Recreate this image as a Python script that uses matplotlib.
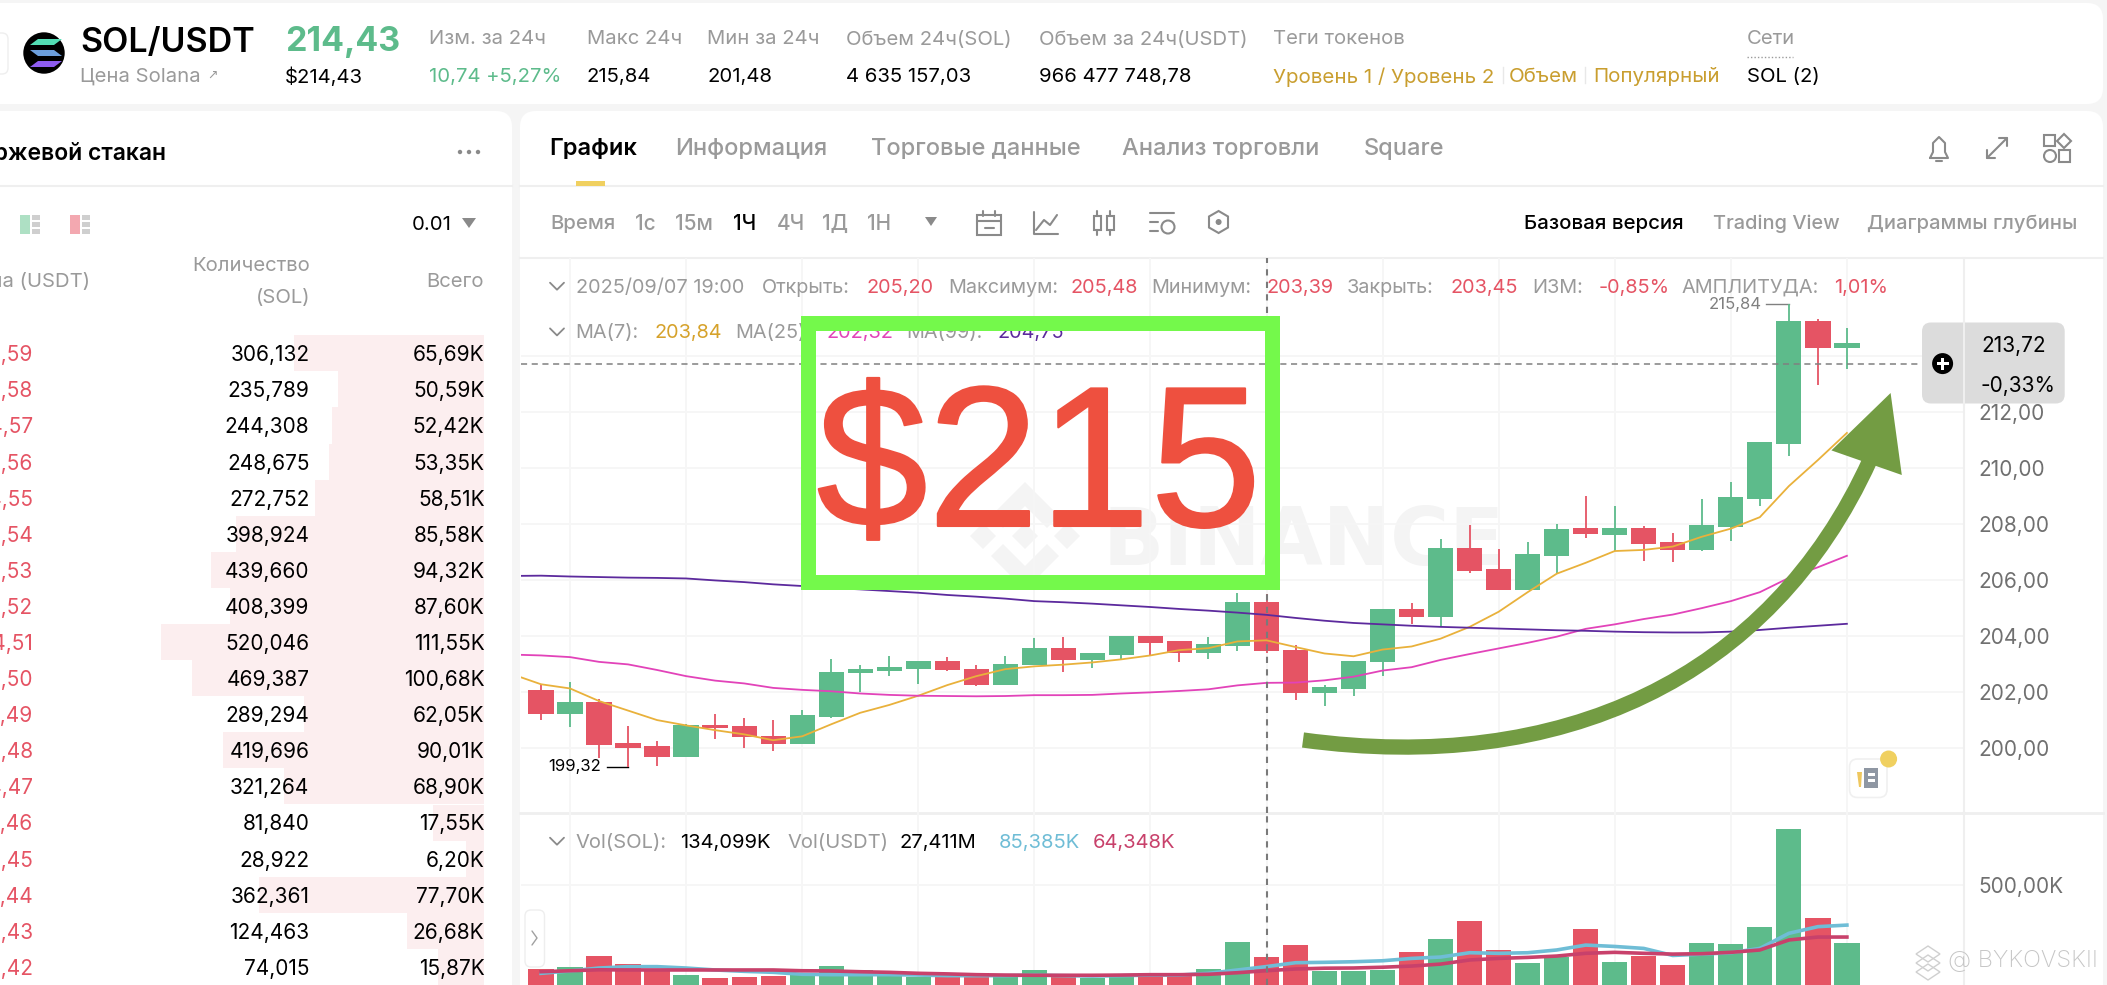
import numpy as np
import matplotlib
matplotlib.use('Agg')
import matplotlib.pyplot as plt
import matplotlib.patheffects as pe
from matplotlib.patches import FancyBboxPatch, Rectangle, Polygon, Circle, PathPatch
from matplotlib.path import Path

plt.rcParams['font.family'] = ['Inter', 'DejaVu Sans']

W, H = 2107, 985

# candles, 1h
opens = [202.07, 201.22, 201.63, 200.17, 200.05, 199.67, 200.82, 200.77, 200.41, 200.13,
         201.10, 202.68, 202.76, 202.82, 203.10, 202.83, 202.23, 202.97, 203.56, 203.14,
         203.33, 203.98, 203.80, 203.39, 203.65, 205.20, 203.48, 201.94, 202.10, 203.05,
         204.95, 204.66, 207.13, 206.38, 205.63, 206.86, 207.86, 207.60, 207.86, 207.35,
         207.05, 207.88, 208.90, 210.85, 215.26, 214.27]
highs = [202.27, 202.35, 201.76, 200.78, 200.26, 200.85, 201.19, 201.06, 200.98, 201.35,
         203.18, 202.95, 203.27, 203.10, 203.24, 202.95, 203.29, 203.93, 203.95, 203.39,
         203.98, 203.98, 203.80, 203.95, 205.54, 205.48, 203.67, 202.24, 203.10, 204.95,
         205.18, 207.45, 207.95, 207.09, 207.37, 207.98, 208.99, 208.64, 207.92, 207.69,
         208.88, 209.49, 210.94, 215.84, 215.31, 215.00]
lows = [200.99, 200.74, 199.62, 199.32, 199.35, 199.67, 200.33, 200.00, 199.90, 200.13,
        201.07, 201.99, 202.56, 202.28, 202.76, 202.21, 202.23, 202.97, 202.72, 202.86,
        203.14, 203.33, 203.07, 203.16, 203.46, 203.39, 201.71, 201.48, 201.86, 202.58,
        204.44, 204.34, 206.26, 205.63, 205.63, 206.22, 207.50, 207.03, 206.68, 206.65,
        207.03, 207.40, 208.65, 210.43, 212.96, 213.53]
closes = [201.22, 201.63, 200.10, 200.00, 199.67, 200.82, 200.69, 200.37, 200.13, 201.16,
          202.72, 202.82, 202.87, 203.10, 202.79, 202.23, 203.01, 203.56, 203.14, 203.39,
          203.98, 203.74, 203.39, 203.70, 205.22, 203.45, 201.95, 202.16, 203.10, 204.95,
          204.66, 207.13, 206.33, 205.63, 206.91, 207.83, 207.63, 207.86, 207.28, 207.05,
          207.95, 208.95, 210.91, 215.26, 214.27, 214.46]

# moving averages, first value is one candle before the visible range
ma7 = [202.63, 202.27, 202.12, 201.67, 201.33, 200.99, 200.80, 200.63, 200.48, 200.27, 200.41,
       200.84, 201.25, 201.53, 201.86, 202.24, 202.56, 202.81, 202.91, 202.97, 203.05,
       203.16, 203.30, 203.49, 203.56, 203.80, 203.84, 203.60, 203.37, 203.27, 203.51,
       203.62, 203.90, 204.32, 204.86, 205.56, 206.22, 206.61, 207.03, 207.07, 207.19,
       207.54, 207.83, 208.24, 209.35, 210.28, 211.25]
ma25 = [203.33, 203.30, 203.24, 203.07, 202.98, 202.78, 202.56, 202.40, 202.30, 202.14, 202.07,
        202.02, 201.94, 201.89, 201.86, 201.85, 201.84, 201.85, 201.88, 201.88, 201.89,
        201.94, 201.98, 202.03, 202.09, 202.23, 202.32, 202.33, 202.41, 202.54, 202.76,
        202.88, 203.14, 203.35, 203.55, 203.75, 203.97, 204.25, 204.41, 204.60, 204.76,
        204.99, 205.24, 205.56, 206.07, 206.45, 206.86]
ma99 = [206.14, 206.15, 206.12, 206.10, 206.08, 206.07, 206.05, 205.98, 205.92, 205.84, 205.78,
        205.71, 205.66, 205.60, 205.54, 205.46, 205.40, 205.33, 205.24, 205.20, 205.15,
        205.09, 205.03, 204.96, 204.90, 204.83, 204.75, 204.64, 204.54, 204.46, 204.41,
        204.36, 204.32, 204.29, 204.26, 204.23, 204.20, 204.18, 204.15, 204.13, 204.12,
        204.12, 204.15, 204.21, 204.29, 204.36, 204.43]
price_ticks = [200, 202, 204, 206, 208, 210, 212, 214]
price_labels = ['200,00', '202,00', '204,00', '206,00', '208,00', '210,00', '212,00', '214,00']
last_price = 213.72

# volume in thousands of SOL
volumes = [71, 83, 139, 97, 71, 42, 27, 31, 37, 51, 88, 68, 51, 31, 34, 51, 31, 69, 34, 29,
           34, 54, 47, 73, 209, 134.1, 197, 64, 64, 66, 161, 226, 316, 170, 105, 136, 275,
           107, 141, 93, 204, 200, 287, 786, 332, 207]
vol_ma5 = [51, 63, 78, 85, 85, 78, 68, 61, 56, 46, 44, 44, 44, 42, 39, 39, 39, 42, 39, 37,
           39, 42, 42, 51, 68, 85.4, 105, 107, 110, 115, 127, 134, 156, 153, 156, 170, 195,
           188, 178, 142, 149, 156, 178, 255, 289, 297]
vol_ma10 = [59, 64, 69, 68, 68, 68, 68, 68, 68, 64, 63, 59, 56, 51, 48, 44, 42, 41, 41, 41,
            42, 44, 44, 46, 54, 64.3, 73, 77, 78, 82, 88, 98, 119, 127, 132, 139, 153,
            158, 153, 149, 151, 158, 170, 221, 236, 236]

# order book
book_prices = ['214,59', '214,58', '214,57', '214,56', '214,55', '214,54', '214,53', '214,52', '214,51',
               '214,50', '214,49', '214,48', '214,47', '214,46', '214,45', '214,44', '214,43', '214,42']
book_qty = [306.132, 235.789, 244.308, 248.675, 272.752, 398.924, 439.660, 408.399, 520.046,
            469.387, 289.294, 419.696, 321.264, 81.840, 28.922, 362.361, 124.463, 74.015]
book_total = ['65,69K', '50,59K', '52,42K', '53,35K', '58,51K', '85,58K', '94,32K', '87,60K', '111,55K',
              '100,68K', '62,05K', '90,01K', '68,90K', '17,55K', '6,20K', '77,70K', '26,68K', '15,87K']

GREEN = '#5DBB8B'
RED = '#E55464'
GREY = '#9A9A9A'
TAG = '#C99E2F'
LINE = '#EFEFEF'
GRID = '#F6F6F6'


def px_axes(x0, y0, x1, y1, z):
    ax = fig.add_axes([x0 / W, 1 - y1 / H, (x1 - x0) / W, (y1 - y0) / H], zorder=z)
    ax.patch.set_alpha(0)
    return ax


def txt(x, y, s, color='black', size=14.6, ha='left', weight='normal', **kw):
    top.text(x, y, s, color=color, fontsize=size, ha=ha, va='center_baseline', fontweight=weight, **kw)


def icon(points, color='#8A8A8A', lw=1.5):
    pts = np.array(points)
    top.plot(pts[:, 0], pts[:, 1], color=color, lw=lw, solid_capstyle='round')


fig = plt.figure(figsize=(W / 100, H / 100), dpi=100, facecolor='#F5F5F5')

# page background and panels
bg = px_axes(0, 0, W, H, 0)
bg.set_xlim(0, W)
bg.set_ylim(H, 0)
bg.axis('off')
for x, y, w, h in [(-30, 3, 2133, 101), (-30, 111, 542, 920), (520, 111, 1583, 920)]:
    bg.add_patch(FancyBboxPatch((x, y), w, h, boxstyle='round,pad=0,rounding_size=16', fc='white', ec='none'))
bg.plot([0, 512], [186, 186], color=LINE, lw=1.5)
bg.plot([520, 2103], [186, 186], color=LINE, lw=1.5)
bg.plot([520, 2103], [258, 258], color=LINE, lw=1.5)
bg.plot([520, 2103], [813, 813], color=LINE, lw=2)

# watermark
wm = '#F4F4F4'
bg.text(1103, 565, 'BINANCE', color=wm, fontsize=58, fontweight='bold', family='DejaVu Sans', va='baseline')
cx, cy = 1025, 536
for dx in (-42, 0, 42):
    bg.add_patch(Polygon([(cx + dx, cy - 13), (cx + dx + 13, cy), (cx + dx, cy + 13), (cx + dx - 13, cy)], fc=wm))
for s in (-1, 1):
    bg.add_patch(Polygon([(cx, cy + s * 54), (cx + 34, cy + s * 20), (cx + 22, cy + s * 8), (cx, cy + s * 30),
                          (cx - 22, cy + s * 8), (cx - 34, cy + s * 20)], fc=wm))

# order book bars
book = px_axes(0, 335.2, 484, 985, 1)
book.set_xlim(779, 0)
book.set_ylim(17.5, -0.5)
book.axis('off')
book.barh(np.arange(18), book_qty, height=1.0, color='#FCEEEF')

# price chart
x0_px, step_px = 541, 29.02
chart_xlim = ((521 - x0_px) / step_px, (1964 - x0_px) / step_px)
idx = np.arange(len(opens))
ax = px_axes(521, 258, 1964, 813, 2)
ax.set_xlim(*chart_xlim)
ax.set_ylim(197.67, 217.5)
for i in idx:
    col = GREEN if closes[i] >= opens[i] else RED
    ax.vlines(i, lows[i], highs[i], color=col, lw=1.3, zorder=3)
    ax.bar(i, max(abs(closes[i] - opens[i]), 0.06), bottom=min(opens[i], closes[i]), width=0.87, color=col, zorder=3)
ma_x = np.arange(-1, 46)
ax.plot(ma_x, ma7, color='#E9B13B', lw=1.3, zorder=4)
ax.plot(ma_x, ma25, color='#E243B9', lw=1.3, zorder=4)
ax.plot(ma_x, ma99, color='#5C2A9D', lw=1.3, zorder=4)
ax.plot([chart_xlim[0], 47.55], [last_price, last_price], color='#808080', lw=1.1, ls=(0, (4, 3)), zorder=5)
ax.axvline(25, color='#7A7A7A', lw=1.5, ls=(0, (3, 3)), zorder=5)
grid_idx = np.arange(1, 46, 4)
ax.set_xticks(grid_idx)
ax.set_yticks(price_ticks)
ax.set_yticklabels(price_labels, color='#707070', fontsize=15)
ax.yaxis.tick_right()
ax.tick_params(length=0, labelbottom=False, pad=10.5)
ax.grid(color=GRID, lw=1.3)
ax.set_axisbelow(True)
for name, sp in ax.spines.items():
    sp.set_visible(name == 'right')
    sp.set_color(LINE)
    sp.set_linewidth(1.5)
ax.annotate('215,84', (43, 215.84), xytext=(-27, 0), textcoords='offset pixels', color='#808080', fontsize=12,
            ha='right', va='center')
ax.plot([42.2, 43], [215.84, 215.84], color='#808080', lw=1)
ax.annotate('199,32', (3, 199.32), xytext=(-27, 0), textcoords='offset pixels', color='black', fontsize=12,
            ha='right', va='center')
ax.plot([2.28, 3], [199.32, 199.32], color='black', lw=1)

# volume
vol = px_axes(521, 813, 1964, 985, 2)
vol.set_xlim(*chart_xlim)
vol.set_ylim(-8.7, 869)
vol_colors = [GREEN if c >= o else RED for o, c in zip(opens, closes)]
vol.bar(idx, np.array(volumes) + 9, bottom=-9, width=0.87, color=vol_colors, zorder=3)
vol.plot(idx, vol_ma5, color='#6FBDD6', lw=2.6, zorder=4)
vol.plot(idx, vol_ma10, color='#C8416B', lw=2.6, zorder=4)
vol.axvline(25, color='#7A7A7A', lw=1.5, ls=(0, (3, 3)), zorder=5)
vol.set_xticks(grid_idx)
vol.set_yticks([500])
vol.set_yticklabels(['500,00K'], color='#707070', fontsize=15)
vol.yaxis.tick_right()
vol.tick_params(length=0, labelbottom=False, pad=10.5)
vol.grid(color=GRID, lw=1.3)
vol.set_axisbelow(True)
for name, sp in vol.spines.items():
    sp.set_visible(name == 'right')
    sp.set_color(LINE)
    sp.set_linewidth(1.5)

# texts, icons and the drawn-on annotations
top = px_axes(0, 0, W, H, 3)
top.set_xlim(0, W)
top.set_ylim(H, 0)
top.axis('off')

# header
top.add_patch(FancyBboxPatch((-12, 33), 20, 41, boxstyle='round,pad=0,rounding_size=6', fc='white', ec='#EEEEEE', lw=1))
top.add_patch(Circle((44, 53), 20.7, fc='black'))
for dy, c, left_in in [(-11, '#52DDB4', True), (0, '#6C9FDC', False), (11, '#8E5CF0', True)]:
    shift = 4 if left_in else -4
    top.add_patch(Polygon([(34 + shift, 53 + dy - 3), (58 + shift, 53 + dy - 3),
                           (58 - shift, 53 + dy + 3), (34 - shift, 53 + dy + 3)], fc=c))
txt(80, 39, 'SOL/USDT', size=24.5, weight='semibold')
txt(80, 75, 'Цена Solana', color=GREY)
txt(207, 74, '↗', color=GREY, size=9, family=['DejaVu Sans'])
txt(284.7, 39, '214,43', color=GREEN, size=24.5, weight='bold')
txt(284.7, 75, '$214,43')
for x, label, value, col in [(428.7, 'Изм. за 24ч', '10,74 +5,27%', GREEN),
                             (586.7, 'Макс 24ч', '215,84', 'black'),
                             (707.3, 'Мин за 24ч', '201,48', 'black'),
                             (846, 'Объем 24ч(SOL)', '4 635 157,03', 'black'),
                             (1039, 'Объем за 24ч(USDT)', '966 477 748,78', 'black')]:
    txt(x, 37.5, label, color=GREY)
    txt(x, 75, value, color=col)
txt(1273, 37.5, 'Теги токенов', color=GREY)
txt(1273, 75, 'Уровень 1 / Уровень 2', color=TAG, size=14.8)
txt(1509, 75, 'Объем', color=TAG, size=14.8)
txt(1593, 75, 'Популярный', color=TAG, size=14.8)
for x in (1502.5, 1585):
    top.plot([x, x], [67, 83], color='#E8E8E8', lw=1)
txt(1746.6, 37.5, 'Сети', color=GREY)
top.plot([1746.6, 1793], [56.7, 56.7], color='#9A9A9A', lw=1, ls=(0, (1, 1.5)))
txt(1746.6, 75, 'SOL (2)')

# order book header and rows
txt(166, 152, 'Биржевой стакан', ha='right', size=16.5, weight='semibold')
for x in (460, 469, 478):
    top.add_patch(Circle((x, 152), 2.2, fc='#8A8A8A'))
for x, c in [(20, '#AEE0C4'), (70, '#F3A8B0')]:
    top.add_patch(Rectangle((x, 215), 10, 19, fc=c))
    for y in (215, 222, 229):
        top.add_patch(Rectangle((x + 12, y), 8, 5, fc='#CFCFCF'))
txt(412, 223, '0.01')
top.add_patch(Polygon([(462, 218), (476, 218), (469, 228)], fc='#8A8A8A'))
txt(89.7, 279.5, 'Цена (USDT)', color=GREY, ha='right')
txt(310, 264, 'Количество', color=GREY, ha='right')
txt(310, 296, '(SOL)', color=GREY, ha='right')
txt(483.3, 280, 'Всего', color=GREY, ha='right')
for i in range(18):
    y = 353.2 + 36.1 * i
    txt(33, y, book_prices[i], color=RED, size=15, ha='right')
    txt(309.5, y, f'{book_qty[i]:.3f}'.replace('.', ','), size=15, ha='right')
    txt(484.5, y, book_total[i], size=15, ha='right')

# tabs
txt(549, 146.7, 'График', size=17, weight='semibold')
for x, s in [(675, 'Информация'), (870.7, 'Торговые данные'), (1122, 'Анализ торговли'), (1363.5, 'Square')]:
    txt(x, 146.7, s, color=GREY, size=17, weight='medium')
top.add_patch(Rectangle((576, 181), 29, 5, fc='#F0D060'))
icon([(1930, 158), (1933, 152), (1933, 143), (1939, 137), (1945, 143), (1945, 152), (1948, 158), (1930, 158)])
icon([(1936, 161), (1942, 161)])
icon([(1987, 158), (2007, 138)])
icon([(1987, 150), (1987, 158), (1995, 158)])
icon([(1999, 138), (2007, 138), (2007, 146)])
top.add_patch(Rectangle((2044, 135), 11, 11, fc='none', ec='#8A8A8A', lw=1.5))
top.add_patch(Polygon([(2064, 134), (2071, 141), (2064, 148), (2057, 141)], fc='none', ec='#8A8A8A', lw=1.5))
top.add_patch(Circle((2050, 156), 6, fc='none', ec='#8A8A8A', lw=1.5))
top.add_patch(Rectangle((2059, 150), 11, 12, fc='none', ec='#8A8A8A', lw=1.5))

# toolbar
txt(550.6, 222, 'Время', color=GREY, size=14.6, weight='medium')
for x, s, c in [(635, '1с', GREY), (675, '15м', GREY), (733.4, '1Ч', 'black'), (777, '4Ч', GREY),
                (822, '1Д', GREY), (867, '1Н', GREY)]:
    txt(x, 222, s, color=c, size=15, weight='medium')
top.add_patch(Polygon([(925, 217), (937, 217), (931, 226)], fc='#8A8A8A'))
top.add_patch(Rectangle((977, 215), 24, 20, fc='none', ec='#8A8A8A', lw=1.5))
icon([(977, 221), (1001, 221)])
icon([(983, 211), (983, 216)])
icon([(995, 211), (995, 216)])
icon([(994, 228), (985, 228)])
icon([(1034, 212), (1034, 234), (1058, 234)])
icon([(1036, 230), (1044, 220), (1050, 225), (1057, 215)])
for x in (1097, 1110):
    top.add_patch(Rectangle((x - 3.5, 216), 7, 14, fc='none', ec='#8A8A8A', lw=1.5))
    icon([(x, 211), (x, 216)])
    icon([(x, 230), (x, 235)])
icon([(1150, 213), (1174, 213)])
icon([(1150, 222), (1158, 222)])
icon([(1150, 231), (1158, 231)])
top.add_patch(Circle((1168, 227), 6.5, fc='none', ec='#8A8A8A', lw=1.5))
top.add_patch(Polygon([(1218.6, 211), (1228, 216.5), (1228, 227.5), (1218.6, 233), (1209, 227.5), (1209, 216.5)],
                      fc='none', ec='#8A8A8A', lw=1.5))
top.add_patch(Circle((1218.6, 222), 3, fc='#8A8A8A'))
txt(1524, 222, 'Базовая версия', size=14.7, weight='medium')
txt(1713, 222, 'Trading View', color=GREY, size=14.4, weight='medium')
txt(1867, 222, 'Диаграммы глубины', color=GREY, size=14.5, weight='medium')

# OHLC and MA rows
for x, s, c in [(575.7, '2025/09/07 19:00', GREY), (761.7, 'Открыть:', GREY), (866.7, '205,20', RED),
                (948, 'Максимум:', GREY), (1070.7, '205,48', RED), (1151.7, 'Минимум:', GREY),
                (1266, '203,39', RED), (1346.7, 'Закрыть:', GREY), (1450.7, '203,45', RED),
                (1532.7, 'ИЗМ:', GREY), (1598.4, '-0,85%', RED), (1681, 'АМПЛИТУДА:', GREY),
                (1833.8, '1,01%', RED)]:
    txt(x, 285.7, s, color=c, size=14.3)
for x, s, c in [(575.7, 'MA(7):', GREY), (654, '203,84', '#D6A22B'), (735.3, 'MA(25):', GREY),
                (826, '202,32', '#E243B9'), (906.7, 'MA(99):', GREY), (997.7, '204,75', '#5C2A9D')]:
    txt(x, 331.4, s, color=c, size=14.3)
for y in (285.7, 331.4, 840.7):
    icon([(550, y - 3), (557, y + 4), (564, y - 3)], lw=1.3)

# volume row
for x, s, c in [(575, 'Vol(SOL):', GREY), (680, '134,099K', 'black'), (787, 'Vol(USDT)', GREY),
                (899.6, '27,411M', 'black'), (998.6, '85,385K', '#6FBDD6'), (1093, '64,348K', '#C8416B')]:
    txt(x, 840.7, s, color=c, size=14.5)
top.add_patch(FancyBboxPatch((525, 910), 19.5, 57, boxstyle='round,pad=0,rounding_size=6', fc='white', ec='#EEEEEE', lw=1))
icon([(532, 931), (537, 938), (532, 945)], color='#A0A0A0', lw=1)

# news button
top.add_patch(FancyBboxPatch((1849.5, 759), 37.5, 38.5, boxstyle='round,pad=0,rounding_size=8', fc='white', ec='#F0F0F0', lw=1.2))
top.add_patch(Rectangle((1864, 768), 14, 20, fc='#8F97A3'))
top.add_patch(Rectangle((1868, 773), 7, 2.5, fc='white'))
top.add_patch(Rectangle((1868, 779), 7, 2.5, fc='white'))
top.add_patch(Polygon([(1857, 772), (1862, 772), (1861, 787), (1859, 787)], fc='#EFC75E'))
top.add_patch(Circle((1888.6, 759), 8.5, fc='#F0D060'))

# last price box
top.add_patch(FancyBboxPatch((1922, 322.5), 142.7, 81, boxstyle='round,pad=0,rounding_size=9', fc='#DCDCDC', ec='none'))
top.plot([1964, 1964], [322.5, 403.5], color='#EFEFEF', lw=1.5)
top.add_patch(Circle((1942.6, 363.6), 10.5, fc='black'))
top.add_patch(Rectangle((1936.6, 361.8), 12, 3.6, fc='white'))
top.add_patch(Rectangle((1940.8, 357.6), 3.6, 12, fc='white'))
txt(1981, 344, '213,72', size=15)
txt(1981, 384, '-0,33%', size=15)

# drawn-on frame, price and arrow
top.add_patch(Rectangle((807.5, 322.5), 464, 259, fc='none', ec='#74F94B', lw=10.8, joinstyle='miter', zorder=10))
top.text(1039, 526, '$215', color='#EE503F', fontsize=144, family='Liberation Sans', ha='center', va='baseline', zorder=11,
         path_effects=[pe.withStroke(linewidth=1.5, foreground='#EE503F')])
arrow = Path([(1303, 740), (1560, 775), (1770, 680), (1870, 460)], [Path.MOVETO, Path.CURVE4, Path.CURVE4, Path.CURVE4])
top.add_patch(PathPatch(arrow, fc='none', ec='#739C43', lw=11, capstyle='butt', zorder=11))
top.add_patch(Polygon([(1890.6, 393), (1831.4, 450.4), (1901.8, 475)], fc='#739C43', zorder=11))

# corner signature
for dy in (0, 9, 18):
    top.add_patch(Polygon([(1928, 946 + dy), (1940, 954 + dy), (1928, 962 + dy), (1916, 954 + dy)], fc='none', ec='#D0D0D0', lw=1))
txt(1947.5, 958, '@ BYKOVSKII', color='#C6C6C6', size=17, weight='light')

fig.savefig('out.png', dpi=100)
